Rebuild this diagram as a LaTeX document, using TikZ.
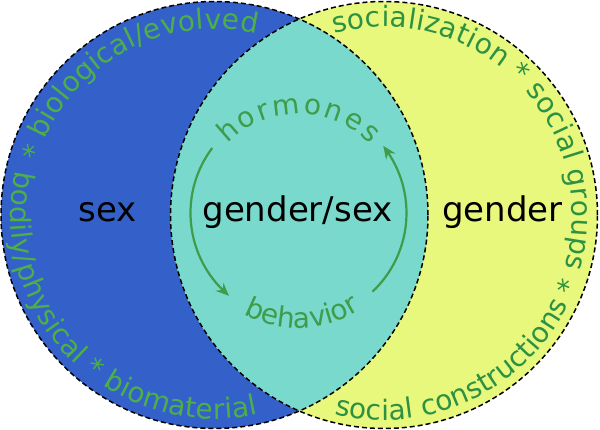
\documentclass[tikz,border=0pt]{standalone}
\usepackage{fontspec}
\setmainfont{DejaVu Sans}
\usetikzlibrary{decorations.text,arrows.meta,bending}
\definecolor{sexblue}{RGB}{52,97,201}
\definecolor{genyellow}{RGB}{232,248,125}
\definecolor{lensteal}{RGB}{121,217,205}
\definecolor{greenL}{RGB}{76,175,72}
\definecolor{greenR}{RGB}{44,145,66}
\definecolor{greenM}{RGB}{62,156,74}
\begin{document}
\begin{tikzpicture}[x=1pt,y=1pt,
  outline/.style={draw=black, line width=1.5pt, dash pattern=on 5pt off 3pt},
  bigword/.style={font=\fontsize{34}{40}\selectfont, text=black, anchor=base, inner sep=0pt},
  cyclearrow/.style={draw=greenM, line width=2.2pt, -{Stealth[length=13pt,width=11pt,bend]}},
  starmark/.style={font=\fontsize{28}{32}\selectfont, inner sep=0pt},
  arcword/.style n args={2}{decorate, decoration={text along path, text align={fit to path}, text color=#1,
      text={|\fontsize{28}{32}\selectfont|#2}}},
  arcwordc/.style n args={2}{decorate, decoration={text along path, text align=center, text color=#1,
      text={|\fontsize{28}{32}\selectfont|#2}}},
]
\useasboundingbox (0,0) rectangle (600,430);
\coordinate (L) at (214.5,215);
\coordinate (R) at (384,215);
\coordinate (M) at (298.5,217);
% circles
\fill[sexblue] (L) circle[radius=213.5];
\fill[genyellow] (R) circle[radius=213.5];
\begin{scope}
  \clip (L) circle[radius=213.5];
  \fill[lensteal] (R) circle[radius=213.5];
\end{scope}
\path[outline] (L) circle[radius=213.5];
\path[outline] (R) circle[radius=213.5];
% left circle texts
\path[arcword={greenL}{bodily/physical * biomaterial}]
  ([shift={(167.5:204)}]L) arc[start angle=167.5, end angle=282.4, radius=204];
\path[arcword={greenL}{biological/evolved}]
  ([shift={(156:186)}]L) arc[start angle=156, end angle=77, radius=186];
\node[starmark, text=greenL, rotate=71] (starL) at (33,277) {*};
% right circle texts
\path[arcword={greenR}{socialization * social groups}]
  ([shift={(105.4:188)}]R) arc[start angle=105.4, end angle=-16.4, radius=188];
\path[arcword={greenR}{social constructions}]
  ([shift={(256:205)}]R) arc[start angle=256, end angle=334, radius=205];
\node[starmark, text=greenR, rotate=68] (starR) at (567,143) {*};
% middle texts
\path[arcword={greenM}{hormones}]
  ([shift={(136:99)}]M) arc[start angle=136, end angle=44, radius=99];
\path[arcwordc={greenM}{behavior}]
  ([shift={(238:115)}]M) arc[start angle=238, end angle=306, radius=115];
% cycle arrows
\coordinate (a1) at ([shift={(143:108)}]M);
\coordinate (a2) at ([shift={(-46.7:108)}]M);
\draw[cyclearrow] (a1) arc[start angle=143, end angle=230, radius=108];
\draw[cyclearrow] (a2) arc[start angle=-46.7, end angle=38.4, radius=108];
% labels
\node[bigword] (sexlab) at (108,208) {sex};
\node[bigword] (bothlab) at (297.5,208) {gender/sex};
\node[bigword] (genderlab) at (502.5,208) {gender};
\end{tikzpicture}
\end{document}
